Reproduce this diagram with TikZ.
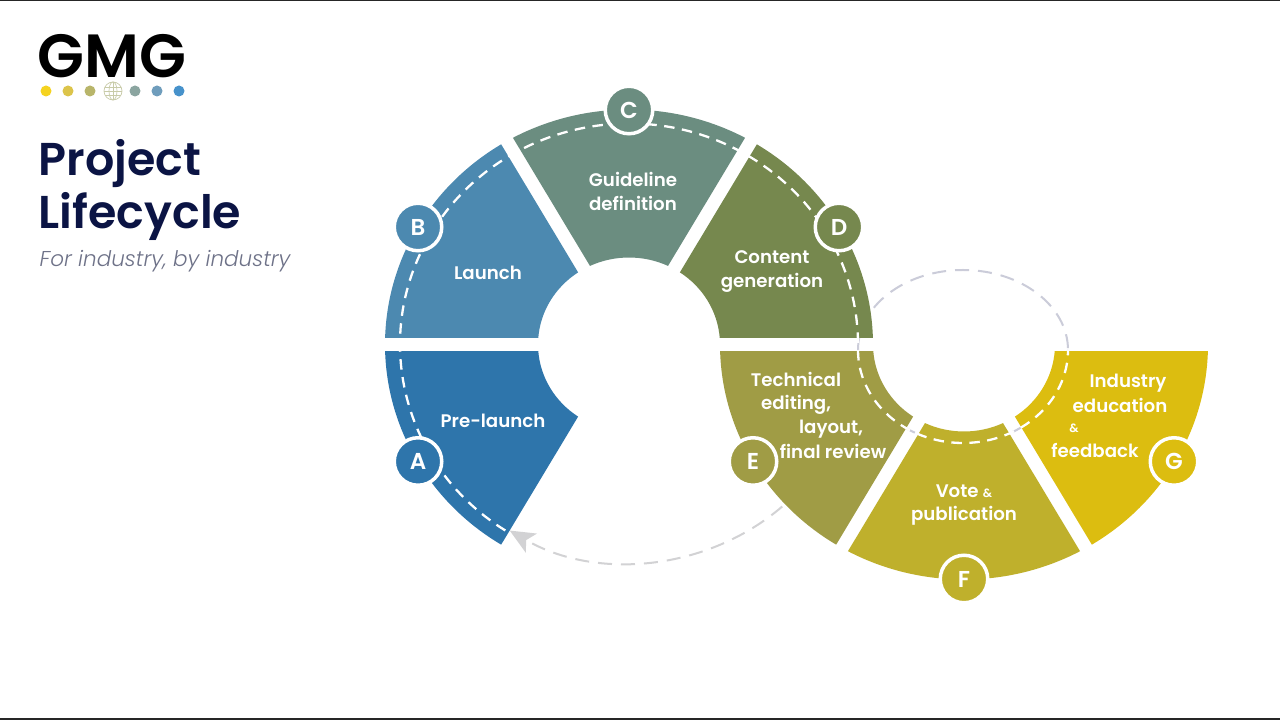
\documentclass[tikz,border=0pt]{standalone}
\usepackage{fontspec}
\setmainfont{Poppins}[BoldFont={Poppins SemiBold},ItalicFont={Poppins Light Italic}]
\usetikzlibrary{arrows.meta}
\definecolor{cA}{HTML}{2E75AB}
\definecolor{cB}{HTML}{4C89B0}
\definecolor{cC}{HTML}{6B8D80}
\definecolor{cD}{HTML}{76884E}
\definecolor{cE}{HTML}{A09C45}
\definecolor{cF}{HTML}{BFB02C}
\definecolor{cG}{HTML}{DCBD10}
\definecolor{navy}{HTML}{0B1444}
\definecolor{slategrey}{HTML}{6E7288}
\definecolor{loopgrey}{HTML}{CBCCD9}
\definecolor{tipgrey}{HTML}{D2D2D4}
\newcommand{\seg}[6]{\fill[#6] ([shift={(#2:244 and 235)}]#1,375.5) arc[start angle=#2,end angle=#3,x radius=244,y radius=235] -- ([shift={(#5:91 and 87)}]#1,375.5) arc[start angle=#5,end angle=#4,x radius=91,y radius=87] -- cycle;}
\tikzset{
 x=1pt,y=1pt,
 badge/.style={circle,draw=white,line width=3.5pt,minimum size=47.5pt,inner sep=0pt,text=white,font=\fontsize{23}{23}\selectfont\bfseries},
 seglabel/.style={text=white,font=\fontsize{18.2}{18.2}\selectfont\bfseries,inner sep=0pt},
 smallamp/.style={text=white,font=\fontsize{12}{12}\selectfont\bfseries,inner sep=0pt},
 whitedash/.style={draw=white,line width=2.3pt,dash pattern=on 10.5pt off 7.5pt},
 greydash/.style={draw=loopgrey,line width=2pt,dash pattern=on 14pt off 9pt},
 logodot/.style={circle,inner sep=0pt,minimum size=11pt},
}
\begin{document}
\begin{tikzpicture}
\useasboundingbox (0,0) rectangle (1280,720);
\fill[white] (0,0) rectangle (1280,720);
\fill[black!85] (0,718.5) rectangle (1280,720);
\fill[black!85] (0,0) rectangle (1280,2);
% grey loops
\coordinate (loopstart) at ([shift={(180:105 and 80)}]963,370);
\draw[greydash] (loopstart) arc[start angle=180,end angle=0,x radius=105,y radius=80];
\draw[greydash] ([shift={(180:105 and 93)}]963,370) arc[start angle=180,end angle=360,x radius=105,y radius=93];
\coordinate (returnstart) at ([shift={(312:229 and 218)}]629,375.5);
\draw[greydash,draw=tipgrey,-{Stealth[length=25pt,width=22pt,inset=6pt,fill=tipgrey]}] (returnstart) arc[start angle=312,end angle=238.6,x radius=229,y radius=218];
% sectors
\seg{629}{181.6}{238.4}{184.3}{236}{cA}
\seg{629}{178.4}{121.6}{175.7}{124}{cB}
\seg{629}{118.4}{61.6}{115.4}{64.6}{cC}
\seg{629}{58.4}{1.6}{56}{4.3}{cD}
\seg{964}{181.6}{238.4}{184.3}{236}{cE}
\seg{964}{241.6}{298.4}{244.6}{295.4}{cF}
\seg{964}{301.6}{358.4}{304}{355.7}{cG}
% white dashed path
\draw[whitedash] ([shift={(237.3:229 and 221)}]629,375.5) arc[start angle=237.3,end angle=0,x radius=229,y radius=221];
\draw[whitedash] ([shift={(180:105 and 93)}]963,370) arc[start angle=180,end angle=360,x radius=105,y radius=93];
% badges
\node[badge,fill=cA] (A) at (418,258.5) {A};
\node[badge,fill=cB] (B) at (418,493) {B};
\node[badge,fill=cC] (C) at (629,610) {C};
\node[badge,fill=cD] (D) at (839,493) {D};
\node[badge,fill=cE] (E) at (753,258.5) {E};
\node[badge,fill=cF] (F) at (964,141) {F};
\node[badge,fill=cG] (G) at (1174,258.5) {G};
% labels
\node[seglabel] (tA) at (493,299) {Pre-launch};
\node[seglabel] (tB) at (488,447) {Launch};
\node[seglabel] (tC1) at (633,541) {Guideline};
\node[seglabel] (tC2) at (633,517) {definition};
\node[seglabel] (tD1) at (772,463) {Content};
\node[seglabel] (tD2) at (772,437) {generation};
\node[seglabel] (tE1) at (796,340.5) {Technical};
\node[seglabel] (tE2) at (796,315) {editing,};
\node[seglabel] (tE3) at (831,291) {layout,};
\node[seglabel] (tE4) at (833,269) {final review};
\node[seglabel] (tF1) at (964,229) {Vote {\fontsize{12}{12}\selectfont \&}};
\node[seglabel] (tF2) at (964,204) {publication};
\node[seglabel] (tG1) at (1128,337) {Industry};
\node[seglabel] (tG2) at (1120,315) {education};
\node[smallamp] (tG3) at (1074,292) {\&};
\node[seglabel] (tG4) at (1095,270) {feedback};
% logo
\node[anchor=west,inner sep=0pt,text=black,font=\fontsize{61}{61}\selectfont\bfseries] (logo) at (37.5,664) {GMG};
\node[logodot,fill={rgb,255:red,245;green,211;blue,32}] (d1) at (46,629) {};
\node[logodot,fill={rgb,255:red,220;green,196;blue,74}] (d2) at (68,629) {};
\node[logodot,fill={rgb,255:red,184;green,181;blue,106}] (d3) at (90,629) {};
\node[logodot,fill={rgb,255:red,139;green,165;blue,160}] (d5) at (135,629) {};
\node[logodot,fill={rgb,255:red,111;green,157;blue,188}] (d6) at (157,629) {};
\node[logodot,fill={rgb,255:red,71;green,146;blue,203}] (d7) at (179,629) {};
\begin{scope}[shift={(113,629)},draw={rgb,255:red,200;green,203;blue,168},line width=0.7pt]
 \draw (0,0) circle (9);
 \draw (0,0) ellipse (4 and 9);
 \draw (-9,0) -- (9,0);
 \draw (-8,4) -- (8,4);
 \draw (-8,-4) -- (8,-4);
 \draw (0,9) -- (0,-9);
\end{scope}
% title
\node[anchor=west,inner sep=0pt,text=navy,font=\fontsize{46}{46}\selectfont\bfseries] (title1) at (38.5,556) {Project};
\node[anchor=west,inner sep=0pt,text=navy,font=\fontsize{46}{46}\selectfont\bfseries] (title2) at (38.5,503) {Lifecycle};
\node[anchor=west,inner sep=0pt,text=slategrey,font=\fontsize{21.5}{21.5}\selectfont\itshape] (sub) at (39.5,459) {For industry, by industry};
\end{tikzpicture}
\end{document}
